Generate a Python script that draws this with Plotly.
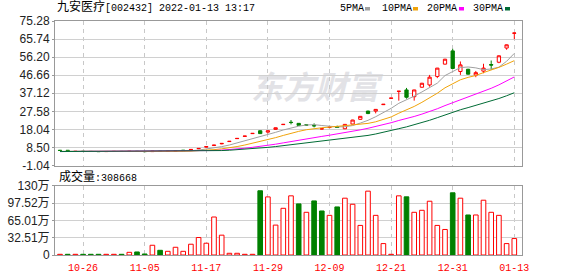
import plotly.graph_objects as go

# ---------------- data ----------------
stock_name = "九安医疗"
stock_code = "002432"
timestamp = "2022-01-13 13:17"
last_volume = 308668

dates = [
    "2021-10-21", "2021-10-22", "2021-10-25", "2021-10-26", "2021-10-27", "2021-10-28", "2021-10-29",
    "2021-11-01", "2021-11-02", "2021-11-03", "2021-11-04", "2021-11-05", "2021-11-08", "2021-11-09",
    "2021-11-10", "2021-11-11", "2021-11-12", "2021-11-15", "2021-11-16", "2021-11-17", "2021-11-18",
    "2021-11-19", "2021-11-22", "2021-11-23", "2021-11-24", "2021-11-25", "2021-11-26", "2021-11-29",
    "2021-11-30", "2021-12-01", "2021-12-02", "2021-12-03", "2021-12-06", "2021-12-07", "2021-12-08",
    "2021-12-09", "2021-12-10", "2021-12-13", "2021-12-14", "2021-12-15", "2021-12-16", "2021-12-17",
    "2021-12-20", "2021-12-21", "2021-12-22", "2021-12-23", "2021-12-24", "2021-12-27", "2021-12-28",
    "2021-12-29", "2021-12-30", "2021-12-31", "2022-01-04", "2022-01-05", "2022-01-06", "2022-01-07",
    "2022-01-10", "2022-01-11", "2022-01-12", "2022-01-13",
]

opens = [7.00, 7.00, 6.40, 6.45, 6.40, 6.35, 6.30, 6.35, 6.40, 6.35, 6.45, 6.35, 6.30, 6.50, 6.40,
         6.50, 7.05, 7.30, 7.80, 8.70, 9.50, 10.40, 11.60, 13.15, 14.35, 15.80, 17.30, 16.60, 18.04,
         20.55, 21.80, 21.22, 20.45, 20.20, 18.25, 19.00, 19.50, 18.36, 20.85, 23.34, 27.70, 27.70,
         31.10, 34.45, 38.10, 38.87, 35.30, 40.30, 41.50, 46.00, 52.50, 59.50, 48.60, 49.80, 46.70,
         48.80, 52.30, 53.50, 61.00, 68.80]
highs = [7.05, 7.05, 6.50, 6.50, 6.45, 6.40, 6.40, 6.45, 6.45, 6.50, 6.50, 6.40, 6.55, 6.55, 6.55,
         6.75, 7.10, 7.50, 8.10, 8.95, 9.80, 10.70, 11.73, 13.27, 14.49, 15.92, 17.50, 17.40, 19.00,
         20.78, 22.97, 21.40, 20.50, 21.20, 18.50, 19.30, 20.00, 20.80, 23.10, 25.10, 27.90, 28.80,
         31.40, 34.60, 38.20, 39.93, 38.95, 42.60, 46.80, 50.50, 55.30, 60.60, 53.90, 50.00, 48.90,
         52.70, 54.40, 57.10, 62.90, 68.95]
lows = [6.85, 6.75, 6.35, 6.35, 6.30, 6.25, 6.25, 6.30, 6.30, 6.30, 6.30, 6.25, 6.25, 6.35, 6.35,
        6.45, 6.80, 7.10, 7.60, 8.50, 9.30, 10.20, 11.60, 13.15, 14.35, 15.80, 15.60, 15.92, 17.90,
        20.50, 20.69, 20.00, 20.10, 19.10, 18.10, 18.90, 18.80, 18.20, 20.70, 23.20, 26.10, 26.50,
        30.90, 34.40, 33.20, 34.26, 33.20, 40.00, 40.60, 45.10, 52.30, 50.00, 46.80, 47.00, 45.60,
        47.70, 49.50, 53.00, 60.10, 65.70]
closes = [6.90, 6.80, 6.45, 6.40, 6.35, 6.30, 6.35, 6.40, 6.35, 6.45, 6.35, 6.30, 6.50, 6.40, 6.50,
          6.70, 6.85, 7.44, 7.97, 8.92, 9.72, 10.62, 11.73, 13.27, 14.49, 15.92, 15.80, 17.30, 18.89,
          20.69, 21.65, 20.16, 20.30, 19.90, 18.36, 19.20, 19.05, 20.69, 22.97, 24.93, 26.40, 28.60,
          31.29, 34.55, 38.18, 35.00, 38.87, 42.40, 45.60, 50.40, 55.10, 50.20, 52.10, 47.20, 48.00,
          50.40, 52.00, 56.90, 62.70, 68.92]

ma5 = [6.42, 6.52, 6.55, 6.57, 6.58, 6.46, 6.37, 6.36, 6.35, 6.37, 6.38, 6.37, 6.39, 6.40, 6.41,
       6.48, 6.59, 6.78, 7.09, 7.58, 8.18, 8.93, 9.79, 10.85, 11.97, 13.21, 14.24, 15.36, 16.48,
       17.72, 18.87, 19.74, 20.34, 20.54, 20.07, 19.58, 19.36, 19.44, 20.05, 21.37, 22.81, 24.72,
       26.84, 29.15, 31.80, 33.52, 35.58, 37.80, 40.01, 42.45, 46.47, 48.74, 50.68, 51.00, 50.52,
       49.58, 49.94, 50.90, 54.00, 58.18]
ma10 = [6.36, 6.41, 6.43, 6.44, 6.44, 6.44, 6.45, 6.46, 6.46, 6.48, 6.42, 6.37, 6.38, 6.38, 6.39,
        6.43, 6.48, 6.58, 6.75, 6.99, 7.33, 7.76, 8.29, 8.97, 9.77, 10.69, 11.59, 12.57, 13.67,
        14.84, 16.04, 16.99, 17.85, 18.51, 18.90, 19.23, 19.55, 19.89, 20.30, 20.72, 21.20, 22.04,
        23.14, 24.60, 26.59, 28.17, 30.15, 32.32, 34.58, 37.13, 40.00, 42.16, 44.24, 45.51, 46.49,
        48.03, 49.34, 50.79, 52.50, 54.35]
ma20 = [6.33, 6.36, 6.36, 6.37, 6.37, 6.37, 6.37, 6.38, 6.38, 6.39, 6.39, 6.39, 6.40, 6.41, 6.42,
        6.44, 6.46, 6.52, 6.60, 6.73, 6.88, 7.07, 7.33, 7.67, 8.08, 8.56, 9.03, 9.58, 10.21, 10.92,
        11.68, 12.38, 13.07, 13.74, 14.33, 14.96, 15.57, 16.23, 16.98, 17.78, 18.62, 19.52, 20.49,
        21.56, 22.74, 23.70, 24.85, 26.10, 27.44, 28.93, 30.60, 32.10, 33.69, 35.05, 36.54, 38.10,
        39.74, 41.55, 43.54, 45.74]
ma30 = [6.32, 6.34, 6.34, 6.35, 6.35, 6.35, 6.35, 6.35, 6.35, 6.36, 6.36, 6.36, 6.37, 6.37, 6.38,
        6.39, 6.41, 6.45, 6.50, 6.59, 6.70, 6.85, 7.03, 7.26, 7.53, 7.85, 8.17, 8.54, 8.96, 9.44,
        9.93, 10.37, 10.84, 11.29, 11.69, 12.12, 12.54, 13.02, 13.57, 14.19, 14.85, 15.60, 16.42,
        17.36, 18.42, 19.36, 20.43, 21.59, 22.85, 24.23, 25.74, 27.06, 28.41, 29.54, 30.66, 31.81,
        33.01, 34.33, 35.79, 37.40]

# volume in units of 万 (10,000)
volume_wan = [1.3, 1.3, 1.3, 1.3, 1.3, 1.3, 1.3, 1.3, 1.3, 5.0, 5.7, 1.9, 18.3, 8.8, 6.9, 14.5, 6.9,
              20.2, 32.8, 22.1, 71.3, 37.2, 3.2, 3.2, 1.3, 1.3, 120.5, 109.0, 56.1, 87.6, 111.0,
              95.9, 80.1, 101.5, 82.6, 74.4, 90.2, 106.6, 95.2, 55.5, 119.8, 74.4, 21.4, 1.3, 111.0,
              109.1, 80.1, 83.9, 100.9, 55.5, 47.9, 116.7, 106.6, 75.1, 75.1, 102.8, 80.1, 74.4,
              21.4, 30.87]
# volume bar direction (close vs previous close): "u" up, "d" down
volume_dir = ["u", "d", "u", "d", "d", "d", "u", "u", "d", "u", "d", "d", "u", "d", "u", "u", "u",
              "u", "u", "u", "u", "u", "u", "u", "u", "u", "d", "u", "u", "u", "u", "d", "u", "d",
              "d", "u", "d", "u", "u", "u", "u", "u", "u", "u", "u", "d", "u", "u", "u", "u", "u",
              "d", "u", "d", "u", "u", "u", "u", "u", "u"]

price_ticks = [-1.04, 8.50, 18.04, 27.58, 37.12, 46.66, 56.20, 65.74, 75.28]
volume_ticks = [0, 32.51, 65.01, 97.52, 130.03]
volume_tick_text = ["0", "32.51万", "65.01万", "97.52万", "130万"]
label_dates = ["2021-10-26", "2021-11-05", "2021-11-17", "2021-11-29", "2021-12-09",
               "2021-12-21", "2021-12-31", "2022-01-13"]
ma_names = ["5PMA", "10PMA", "20PMA", "30PMA"]

# ---------------- style ----------------
RED = "#ff0000"
GREEN = "#008000"
MA_COLORS = ["#a0a0a0", "#f0a30a", "#ff00ff", "#006b35"]
GRID = "#d0d0d0"
FRAME = "#999999"
W, H = 578, 276
ML, MR, MT, MB = 55, 56, 21, 21
PW, PH = W - ML - MR, H - MT - MB


def fx(px):
    return (px - ML) / PW


def fy(py):
    return (H - MB - py) / PH


fig = go.Figure()

fig.add_trace(go.Candlestick(
    x=dates, open=opens, high=highs, low=lows, close=closes,
    xaxis="x", yaxis="y",
    increasing=dict(line=dict(color=RED, width=1), fillcolor="#ffffff"),
    decreasing=dict(line=dict(color=GREEN, width=1), fillcolor=GREEN),
    whiskerwidth=0, showlegend=False, hoverinfo="skip",
))

for name, series, col in zip(ma_names, [ma5, ma10, ma20, ma30], MA_COLORS):
    fig.add_trace(go.Scatter(x=dates, y=series, mode="lines", name=name,
                             line=dict(color=col, width=1), xaxis="x", yaxis="y",
                             showlegend=False, hoverinfo="skip"))

fig.add_trace(go.Bar(
    x=dates, y=volume_wan, xaxis="x2", yaxis="y2", width=0.6,
    marker=dict(color=["#ffffff" if d == "u" else GREEN for d in volume_dir],
                line=dict(color=[RED if d == "u" else GREEN for d in volume_dir], width=1)),
    showlegend=False, hoverinfo="skip",
))

x_range = [-0.65, 60.0]
axis_common = dict(type="category", range=x_range, tickvals=label_dates,
                   showgrid=True, gridcolor="#c8c8c8", griddash="4px,4px", gridwidth=1,
                   showline=True, mirror=True, linecolor=FRAME, linewidth=1,
                   ticks="", zeroline=False, fixedrange=True, automargin=False)

label_text = [d[5:] for d in label_dates]

fig.update_layout(
    width=W, height=H, autosize=False,
    margin=dict(l=ML, r=MR, t=MT, b=MB, pad=0, autoexpand=False),
    paper_bgcolor="#ffffff", plot_bgcolor="#ffffff",
    boxgap=0.39, bargap=0.4,
    xaxis=dict(domain=[0, 1], anchor="y", showticklabels=False,
               rangeslider=dict(visible=False), **axis_common),
    xaxis2=dict(domain=[0, 1], anchor="y2", ticktext=label_text, showticklabels=True,
                tickfont=dict(family="Liberation Mono", size=10, color="#ff0000"),
                ticklabelstandoff=3, **axis_common),
    yaxis=dict(domain=[fy(165.5), 1], anchor="x", range=[price_ticks[0], price_ticks[-1]],
               tickvals=price_ticks, ticktext=["%.2f" % v for v in price_ticks],
               showgrid=True, gridcolor=GRID, gridwidth=1, zeroline=False,
               showline=True, mirror=True, linecolor=FRAME, linewidth=1,
               ticks="outside", ticklen=2, tickcolor=FRAME, automargin=False,
               tickfont=dict(family="Liberation Sans", size=12, color="#222222"),
               fixedrange=True),
    yaxis2=dict(domain=[0, fy(185.7)], anchor="x2", range=[volume_ticks[0], volume_ticks[-1]],
                tickvals=volume_ticks, ticktext=volume_tick_text,
                showgrid=True, gridcolor=GRID, gridwidth=1, zeroline=False,
                showline=True, mirror=True, linecolor=FRAME, linewidth=1,
                ticks="outside", ticklen=2, tickcolor=FRAME, automargin=False,
                tickfont=dict(family="Liberation Sans, Noto Sans CJK SC", size=12, color="#222222"),
                fixedrange=True),
)

# watermark behind the data
fig.add_shape(type="rect", xref="paper", yref="paper",
              x0=fx(240), x1=fx(390), y0=fy(110), y1=fy(70),
              line=dict(width=0), fillcolor="rgba(0,0,0,0)", layer="below",
              label=dict(text="东方财富", textposition="middle center",
                         font=dict(family="Noto Sans CJK SC", size=32, color="#e2e2e6",
                                   weight="bold", style="italic")))

# title
fig.add_annotation(xref="paper", yref="paper", x=fx(55), y=fy(7.5), xanchor="left",
                   yanchor="middle", showarrow=False,
                   text='<span style="font-size:12px">%s</span>[%s] %s' % (stock_name, stock_code, timestamp),
                   font=dict(family="Liberation Mono, Noto Sans CJK SC", size=10, color="#000000"))

# volume label
fig.add_annotation(xref="paper", yref="paper", x=fx(57), y=fy(177), xanchor="left",
                   yanchor="middle", showarrow=False,
                   text='<span style="font-size:12px">成交量</span>:%d' % last_volume,
                   font=dict(family="Liberation Mono, Noto Sans CJK SC", size=10, color="#000000"))

# MA legend
legend_text_x = [338, 380, 425, 471]
legend_box_x = [365, 413, 459, 505]
for name, col, tx, bx in zip(ma_names, MA_COLORS, legend_text_x, legend_box_x):
    fig.add_annotation(xref="paper", yref="paper", x=fx(tx), y=fy(8.5), xanchor="left",
                       yanchor="middle", showarrow=False, text=name,
                       font=dict(family="Liberation Mono", size=10, color="#000000"))
    fig.add_shape(type="rect", xref="paper", yref="paper",
                  x0=fx(bx), x1=fx(bx + 5), y0=fy(10.5), y1=fy(7.0),
                  line=dict(width=0), fillcolor=col)

fig.write_html("out.html")
